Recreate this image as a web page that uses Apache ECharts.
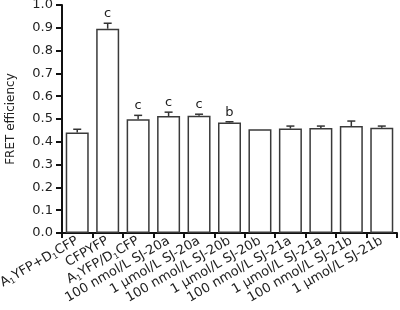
<!DOCTYPE html>
<html><head><meta charset="utf-8">
<script src="https://cdn.jsdelivr.net/npm/echarts@6/dist/echarts.min.js"></script>
<style>html,body{margin:0;padding:0;background:#fff}#c{width:400px;height:310px}</style>
</head><body><div id="c"></div>
<script>
var categories = ['A{s|1}YFP+D{s|1}CFP','CFPYFP','A{s|1}YFP/D{s|1}CFP','100 nmol/L SJ-20a','1 μmol/L SJ-20a','100 nmol/L SJ-20b','1 μmol/L SJ-20b','100 nmol/L SJ-21a','1 μmol/L SJ-21a','100 nmol/L SJ-21b','1 μmol/L SJ-21b'];
var values = [0.441, 0.896, 0.499, 0.513, 0.514, 0.485, 0.455, 0.458, 0.460, 0.469, 0.462];
var errors = [0.014, 0.024, 0.017, 0.017, 0.007, 0.003, 0.000, 0.011, 0.009, 0.022, 0.007];
var letters = ['', 'c', 'c', 'c', 'c', 'b', '', '', '', '', ''];
var yTicks = [0, 0.1, 0.2, 0.3, 0.4, 0.5, 0.6, 0.7, 0.8, 0.9, 1.0];

var FONT = 'DejaVu Sans';
var chart = echarts.init(document.getElementById('c'), null, {renderer: 'canvas'});
var errData = values.map(function (v, i) { return [i, v, v + errors[i], letters[i]]; });
chart.setOption({
  animation: false,
  grid: {left: 62, right: 3, top: 5, bottom: 77, containLabel: false, outerBoundsMode: 'none'},
  xAxis: {
    type: 'category',
    data: categories,
    axisLine: {lineStyle: {color: '#111', width: 2}},
    axisTick: {show: true, length: 5, lineStyle: {color: '#111', width: 2}},
    axisLabel: {
      rotate: 30, interval: 0, margin: 7,
      color: '#222', fontFamily: FONT, fontSize: 13,
      rich: {s: {fontSize: 8, verticalAlign: 'bottom', padding: [7, 0, 0, 0], fontFamily: FONT, color: '#222'}}
    }
  },
  yAxis: {
    type: 'value', min: 0, max: 1.0, interval: 0.1,
    name: 'FRET efficiency', nameLocation: 'middle', nameGap: 45,
    nameTextStyle: {fontFamily: FONT, fontSize: 12, color: '#222'},
    axisLine: {show: true, lineStyle: {color: '#111', width: 2}},
    axisTick: {show: true, length: 6, lineStyle: {color: '#111', width: 2}},
    axisLabel: {color: '#222', fontFamily: FONT, fontSize: 13, margin: 9,
      formatter: function (v) { return v.toFixed(1); }},
    splitLine: {show: false}
  },
  series: [
    {
      type: 'bar', data: values, barWidth: 23,
      itemStyle: {color: '#fff', borderColor: '#3a3a3a', borderWidth: 1.5}
    },
    {
      type: 'custom', data: errData, z: 5,
      renderItem: function (params, api) {
        var x = api.value(0);
        var top = api.coord([x, api.value(2)]);
        var base = api.coord([x, api.value(1)]);
        var children = [];
        if (api.value(2) > api.value(1)) {
          children.push({type: 'line', shape: {x1: top[0], y1: base[1], x2: top[0], y2: top[1]}, style: {stroke: '#333', lineWidth: 1.5}});
          children.push({type: 'line', shape: {x1: top[0] - 4, y1: top[1], x2: top[0] + 4, y2: top[1]}, style: {stroke: '#333', lineWidth: 1.5}});
        }
        var lt = letters[params.dataIndex];
        if (lt) {
          children.push({type: 'text', style: {text: lt, x: top[0], y: top[1] - 3, textAlign: 'center', textVerticalAlign: 'bottom', fill: '#222', font: '13px ' + FONT}});
        }
        return {type: 'group', children: children};
      }
    }
  ]
});
</script></body></html>
